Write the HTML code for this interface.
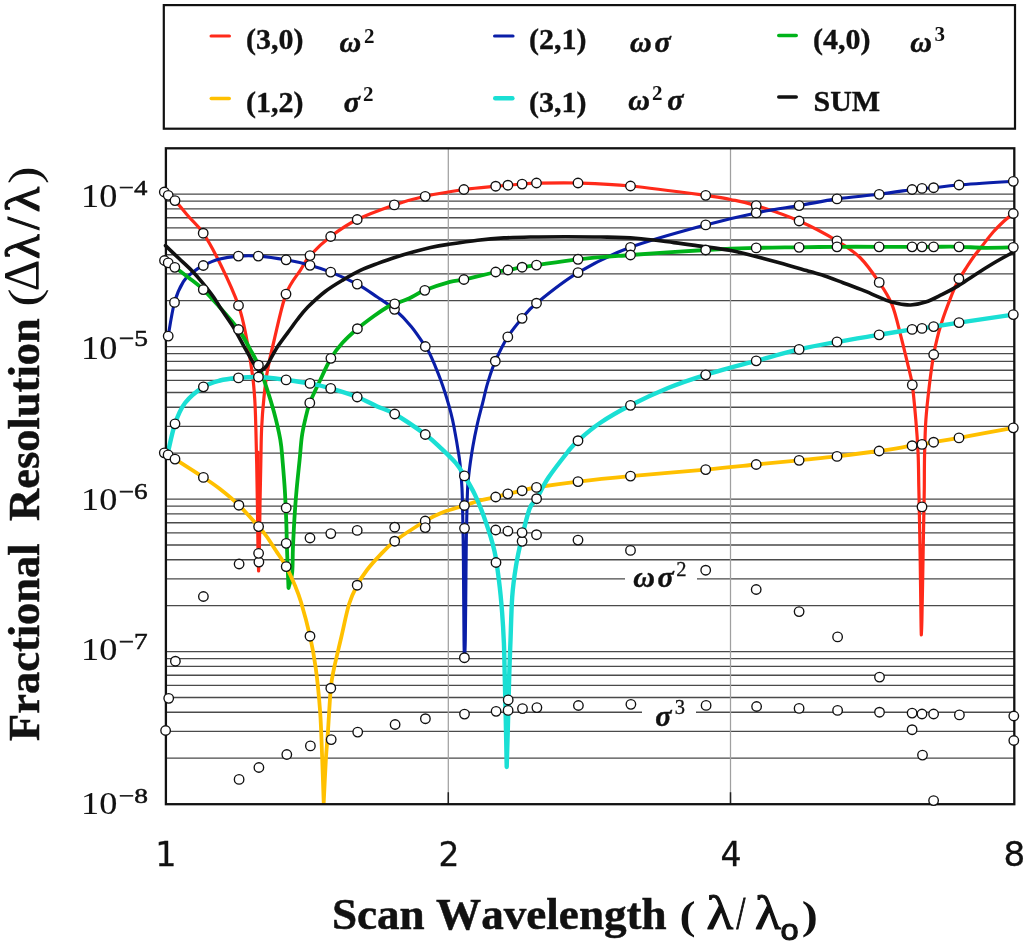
<!DOCTYPE html><html><head><meta charset="utf-8"><title>Fractional Resolution</title>
<style>html,body{margin:0;padding:0;background:#fff;}svg{display:block;}.sf{font-family:"Liberation Serif","DejaVu Serif",serif;}.ss{font-family:"Liberation Sans","DejaVu Sans",sans-serif;}</style></head><body>
<svg width="1024" height="946" viewBox="0 0 1024 946">
<rect width="1024" height="946" fill="#fff"/>
<rect x="163.8" y="5.1" width="851.2" height="123.6" fill="none" stroke="#111" stroke-width="2.2"/>
<line x1="211.1" y1="36.0" x2="229.4" y2="36.0" stroke="#ff2a1a" stroke-width="3.2" stroke-linecap="round"/>
<text class="sf" x="246.0" y="49.4" font-size="30" font-weight="bold" fill="#111" stroke="#111" stroke-width="0.35">(3,0)</text>
<line x1="494.6" y1="36.0" x2="513.0" y2="36.0" stroke="#0a1ea8" stroke-width="3.2" stroke-linecap="round"/>
<text class="sf" x="529.0" y="49.4" font-size="30" font-weight="bold" fill="#111" stroke="#111" stroke-width="0.35">(2,1)</text>
<line x1="778.8" y1="35.5" x2="796.2" y2="35.5" stroke="#00b31a" stroke-width="3.6" stroke-linecap="round"/>
<text class="sf" x="813.0" y="49.4" font-size="30" font-weight="bold" fill="#111" stroke="#111" stroke-width="0.35">(4,0)</text>
<line x1="211.3" y1="98.5" x2="229.2" y2="98.5" stroke="#ffc000" stroke-width="3.6" stroke-linecap="round"/>
<text class="sf" x="246.0" y="112.3" font-size="30" font-weight="bold" fill="#111" stroke="#111" stroke-width="0.35">(1,2)</text>
<line x1="495.2" y1="98.2" x2="512.4" y2="98.2" stroke="#1adfd4" stroke-width="4.4" stroke-linecap="round"/>
<text class="sf" x="529.0" y="112.3" font-size="30" font-weight="bold" fill="#111" stroke="#111" stroke-width="0.35">(3,1)</text>
<line x1="778.8" y1="97.0" x2="796.2" y2="97.0" stroke="#111" stroke-width="3.6" stroke-linecap="round"/>
<text class="sf" x="813.5" y="111.4" font-size="30" font-weight="bold" fill="#111" stroke="#111" stroke-width="0.35">SUM</text>
<text class="sf" font-size="30" font-weight="bold" font-style="italic" fill="#111" stroke="#111" stroke-width="0.5" x="339.4" y="51.5">ω</text>
<text class="sf" font-size="21" font-weight="bold" fill="#111" x="364.0" y="42.8">2</text>
<text class="sf" font-size="30" font-weight="bold" font-style="italic" fill="#111" stroke="#111" stroke-width="0.5" x="629.9" y="52.0">ω</text>
<text class="sf" font-size="30" font-weight="bold" font-style="italic" fill="#111" stroke="#111" stroke-width="0.5" x="654.5" y="52.0">σ</text>
<text class="sf" font-size="30" font-weight="bold" font-style="italic" fill="#111" stroke="#111" stroke-width="0.5" x="910.3" y="51.5">ω</text>
<text class="sf" font-size="21" font-weight="bold" fill="#111" x="934.6" y="40.8">3</text>
<text class="sf" font-size="30" font-weight="bold" font-style="italic" fill="#111" stroke="#111" stroke-width="0.5" x="343.8" y="111.7">σ</text>
<text class="sf" font-size="21" font-weight="bold" fill="#111" x="363.1" y="101.1">2</text>
<text class="sf" font-size="30" font-weight="bold" font-style="italic" fill="#111" stroke="#111" stroke-width="0.5" x="628.2" y="110.4">ω</text>
<text class="sf" font-size="21" font-weight="bold" fill="#111" x="652.1" y="99.5">2</text>
<text class="sf" font-size="30" font-weight="bold" font-style="italic" fill="#111" stroke="#111" stroke-width="0.5" x="667.2" y="110.4">σ</text>
<path d="M165.9 758.19H1014.3M165.9 731.34H1014.3M165.9 712.29H1014.3M165.9 697.51H1014.3M165.9 685.43H1014.3M165.9 675.22H1014.3M165.9 666.38H1014.3M165.9 658.58H1014.3M165.9 651.60H1014.3M165.9 605.69H1014.3M165.9 578.84H1014.3M165.9 559.79H1014.3M165.9 545.01H1014.3M165.9 532.93H1014.3M165.9 522.72H1014.3M165.9 513.88H1014.3M165.9 506.08H1014.3M165.9 499.10H1014.3M165.9 453.19H1014.3M165.9 426.34H1014.3M165.9 407.29H1014.3M165.9 392.51H1014.3M165.9 380.43H1014.3M165.9 370.22H1014.3M165.9 361.38H1014.3M165.9 353.58H1014.3M165.9 346.60H1014.3M165.9 300.69H1014.3M165.9 273.84H1014.3M165.9 254.79H1014.3M165.9 240.01H1014.3M165.9 227.93H1014.3M165.9 217.72H1014.3M165.9 208.88H1014.3M165.9 201.08H1014.3M165.9 194.10H1014.3" stroke="#4a4a4a" stroke-width="1.35" fill="none"/>
<path d="M448.3 148.3V804.2M730.5 148.3V804.2" stroke="#a0a0a0" stroke-width="1.25" fill="none"/>
<path d="M448.3 792.2V804.2M730.5 792.2V804.2" stroke="#222" stroke-width="1.5" fill="none"/>
<rect x="625" y="566" width="72" height="20" fill="#fff"/>
<rect x="642" y="700" width="54" height="22" fill="#fff"/>
<path d="M164.3 192.0 C165.0 192.6 166.4 193.9 168.2 195.3 C170.0 196.7 171.5 197.0 175.0 200.6 C178.5 204.2 184.3 211.6 189.0 217.0 C193.7 222.4 197.9 225.2 203.2 233.2 C208.5 241.2 215.0 253.1 220.9 265.2 C226.8 277.2 234.3 293.5 238.5 305.5 C242.7 317.5 244.0 325.4 246.3 337.0 C248.6 348.6 251.1 364.5 252.5 375.0 C253.9 385.5 254.2 390.8 254.8 400.0 C255.4 409.2 255.6 419.3 255.9 430.0 C256.2 440.7 256.4 451.7 256.7 464.0 C256.9 476.3 257.2 489.8 257.4 504.0 C257.6 518.2 257.8 537.8 258.0 549.0 C258.2 560.2 258.5 567.3 258.6 571.0 L258.6 571.0 C258.7 567.3 259.2 560.2 259.4 549.0 C259.6 537.8 259.8 518.2 260.0 504.0 C260.2 489.8 260.5 476.5 260.8 464.0 C261.1 451.5 261.1 440.2 261.6 429.0 C262.1 417.8 263.0 406.7 264.0 397.0 C265.0 387.3 265.7 380.5 267.4 371.0 C269.1 361.5 271.1 352.8 274.2 340.0 C277.3 327.2 281.6 305.8 286.0 294.1 C290.4 282.4 296.6 276.2 300.6 269.8 C304.6 263.4 305.0 261.1 310.0 255.6 C315.0 250.0 322.8 242.5 330.7 236.5 C338.6 230.5 346.6 224.8 357.2 219.5 C367.8 214.2 383.0 208.8 394.3 204.9 C405.6 201.0 413.6 198.9 425.2 196.3 C436.8 193.7 452.1 191.2 463.9 189.5 C475.6 187.8 486.0 187.1 495.7 186.2 C505.4 185.3 515.3 184.6 522.1 184.1 C528.9 183.6 527.2 183.4 536.5 183.2 C545.8 183.0 562.3 182.5 578.0 183.0 C593.7 183.5 609.2 183.9 630.5 186.0 C651.8 188.1 689.1 193.1 705.7 195.3 C722.4 197.6 722.0 197.8 730.4 199.5 C738.8 201.2 744.8 202.0 756.2 205.6 C767.7 209.2 785.6 215.1 799.1 221.0 C812.6 226.9 826.9 234.7 837.0 240.8 C847.1 246.9 853.0 250.6 860.0 257.5 C867.0 264.4 873.9 274.5 879.2 282.4 C884.6 290.3 888.5 296.0 892.1 304.8 C895.7 313.6 898.1 325.6 900.6 335.2 C903.1 344.8 905.3 354.0 907.3 362.3 C909.2 370.6 910.9 375.3 912.3 384.9 C913.7 394.5 914.8 408.3 915.8 419.7 C916.8 431.1 917.6 442.3 918.1 453.5 C918.6 464.7 918.6 477.6 918.8 487.0 C919.0 496.4 919.1 497.8 919.3 510.0 C919.5 522.2 919.9 541.7 920.2 560.0 C920.5 578.3 920.8 607.5 921.0 620.0 C921.2 632.5 921.2 632.5 921.3 635.0 L921.3 635.0 C921.4 632.5 921.6 632.5 921.9 620.0 C922.2 607.5 922.7 578.3 923.0 560.0 C923.3 541.7 923.7 522.1 923.9 510.0 C924.1 497.9 924.2 496.8 924.3 487.4 C924.4 478.0 924.3 464.8 924.6 453.5 C924.9 442.2 925.1 431.0 925.9 419.7 C926.7 408.4 928.0 396.8 929.3 385.9 C930.6 375.0 932.2 363.1 933.7 354.5 C935.2 345.9 936.9 339.7 938.1 334.6 C939.4 329.5 940.0 327.9 941.2 324.0 C942.4 320.1 943.9 315.7 945.5 311.3 C947.1 306.9 949.1 301.7 950.7 297.6 C952.3 293.6 953.6 290.1 955.0 287.0 C956.4 283.9 957.5 282.1 959.2 279.1 C961.0 276.1 963.0 272.8 965.5 269.0 C968.0 265.2 971.3 260.0 974.0 256.3 C976.7 252.6 978.3 250.9 981.5 246.8 C984.7 242.7 989.6 236.1 993.4 231.8 C997.2 227.5 1000.8 224.1 1004.1 221.0 C1007.4 217.9 1011.8 214.8 1013.3 213.5" fill="none" stroke="#ff2a1a" stroke-width="3.2" stroke-linejoin="round" stroke-linecap="round"/>
<path d="M258.4 452.0 C258.4 463.3 258.5 502.0 258.5 520.0 C258.5 538.0 258.6 553.3 258.6 560.0" fill="none" stroke="#ff2a1a" stroke-width="2.6" stroke-linejoin="round" stroke-linecap="round"/>
<path d="M168.2 336.1 C169.2 330.5 172.0 311.5 174.5 302.4 C177.0 293.3 180.3 286.6 183.4 281.6 C186.5 276.6 189.5 274.9 192.8 272.2 C196.1 269.5 199.0 267.6 203.3 265.5 C207.6 263.4 212.8 260.9 218.6 259.3 C224.4 257.7 231.8 256.6 238.4 256.1 C245.0 255.6 250.4 255.5 258.3 256.1 C266.2 256.7 277.5 258.3 286.1 259.8 C294.7 261.3 302.6 263.2 310.0 265.3 C317.4 267.4 322.8 269.0 330.7 272.1 C338.6 275.2 349.4 280.0 357.2 284.1 C364.9 288.2 371.0 292.8 377.2 297.0 C383.4 301.2 388.8 304.4 394.5 309.3 C400.2 314.2 406.3 320.5 411.4 326.7 C416.5 332.9 422.4 342.1 425.3 346.4 C428.2 350.7 427.6 349.3 429.1 352.4 C430.7 355.4 432.8 360.3 434.6 364.7 C436.4 369.1 438.4 373.9 440.1 378.5 C441.8 383.1 443.4 387.6 444.9 392.2 C446.4 396.8 447.7 401.3 449.0 405.9 C450.3 410.5 451.5 415.1 452.5 419.7 C453.5 424.3 454.3 428.4 455.2 433.4 C456.1 438.4 457.2 444.9 458.0 449.9 C458.8 454.9 459.3 457.2 460.0 463.6 C460.7 470.1 461.5 477.5 462.0 488.6 C462.5 499.7 462.8 518.1 463.0 530.0 C463.2 541.9 463.2 541.7 463.4 560.0 C463.6 578.3 463.8 623.7 464.0 640.0 C464.2 656.3 464.4 654.8 464.5 657.7 L464.5 657.7 C464.6 654.8 465.0 656.3 465.3 640.0 C465.6 623.7 465.9 578.3 466.1 560.0 C466.3 541.7 466.2 541.9 466.5 530.0 C466.8 518.1 467.1 499.0 467.6 488.6 C468.1 478.2 468.8 474.4 469.7 467.4 C470.6 460.3 471.7 453.4 472.9 446.3 C474.1 439.2 475.5 432.2 477.1 425.1 C478.7 418.1 480.6 411.0 482.4 404.0 C484.2 397.0 485.5 390.0 487.7 382.9 C489.9 375.8 491.9 368.9 495.3 361.2 C498.7 353.5 503.3 344.0 507.8 336.9 C512.3 329.8 517.3 323.9 522.1 318.3 C526.9 312.7 527.2 310.8 536.5 303.2 C545.8 295.6 562.3 281.9 578.0 272.6 C593.7 263.3 609.2 255.2 630.5 247.3 C651.8 239.4 684.8 230.6 705.7 224.9 C726.7 219.2 740.6 216.1 756.2 212.9 C771.8 209.7 785.6 207.9 799.1 205.6 C812.6 203.3 823.6 200.8 837.0 198.9 C850.4 197.0 866.7 195.9 879.2 194.3 C891.7 192.7 905.0 190.5 912.1 189.5 C919.2 188.5 918.4 188.7 922.0 188.4 C925.6 188.1 927.4 188.3 933.6 187.7 C939.8 187.1 945.7 186.1 959.0 185.0 C972.3 183.9 1004.2 181.9 1013.3 181.3" fill="none" stroke="#0a1ea8" stroke-width="3.1" stroke-linejoin="round" stroke-linecap="round"/>
<path d="M164.5 260.5 C165.1 260.9 166.5 261.7 168.2 262.8 C169.9 263.9 171.3 264.8 174.8 267.3 C178.3 269.8 184.2 274.3 189.0 278.0 C193.8 281.7 198.4 284.9 203.3 289.6 C208.2 294.3 212.7 299.4 218.6 306.0 C224.5 312.6 233.2 322.3 238.5 329.5 C243.8 336.7 246.9 343.5 250.2 349.4 C253.5 355.3 255.9 359.3 258.4 365.0 C260.9 370.7 262.7 376.0 265.3 383.8 C267.9 391.6 271.4 402.4 273.9 411.7 C276.4 421.0 278.9 431.6 280.3 439.6 C281.7 447.7 281.8 451.7 282.5 460.0 C283.2 468.3 284.2 479.7 284.8 489.6 C285.4 499.5 285.8 509.3 286.2 519.2 C286.6 529.1 286.6 537.3 287.0 548.8 C287.4 560.3 288.2 581.5 288.5 588.0 L288.5 588.0 C289.1 585.4 291.5 579.0 292.2 572.5 C292.9 566.0 292.5 557.7 292.9 548.8 C293.3 539.9 293.8 529.1 294.4 519.2 C295.0 509.3 295.7 499.5 296.6 489.6 C297.5 479.7 298.7 468.8 299.6 460.0 C300.5 451.2 300.9 443.7 301.8 437.0 C302.7 430.3 303.8 425.7 305.1 420.0 C306.4 414.3 307.3 409.5 309.8 402.9 C312.3 396.3 316.5 387.9 320.0 380.5 C323.5 373.1 327.2 364.6 330.9 358.3 C334.6 352.1 337.9 347.9 342.3 343.0 C346.7 338.1 352.1 333.2 357.4 328.7 C362.7 324.2 368.9 319.7 374.0 316.0 C379.1 312.3 384.9 308.5 388.3 306.5 C391.8 304.5 391.3 305.1 394.7 303.8 C398.1 302.5 403.9 300.8 408.9 298.5 C413.9 296.2 417.9 293.1 424.8 290.3 C431.7 287.5 443.5 283.7 450.0 281.9 C456.5 280.1 456.3 281.1 463.9 279.5 C471.5 277.9 488.4 273.6 495.7 272.0 C503.0 270.4 503.5 270.8 507.9 270.0 C512.3 269.2 517.3 268.0 522.1 267.2 C526.9 266.4 527.2 266.4 536.5 265.1 C545.8 263.8 562.3 261.0 578.0 259.3 C593.7 257.6 609.2 256.6 630.5 255.0 C651.8 253.4 684.8 251.2 705.7 250.0 C726.7 248.8 740.6 248.3 756.2 247.9 C771.8 247.5 785.6 247.5 799.1 247.3 C812.6 247.1 823.7 246.9 837.0 246.8 C850.3 246.7 866.6 246.8 879.1 246.8 C891.6 246.8 903.0 246.8 912.1 246.8 C921.2 246.8 925.8 246.8 933.6 246.8 C941.4 246.8 950.4 246.6 959.0 246.8 C967.6 247.0 976.0 247.7 985.0 247.8 C994.0 247.9 1008.6 247.4 1013.3 247.3" fill="none" stroke="#00b31a" stroke-width="3.8" stroke-linejoin="round" stroke-linecap="round"/>
<path d="M164.3 452.8 C164.9 453.1 166.3 453.8 168.1 454.9 C169.9 455.9 169.1 455.4 175.0 459.1 C180.9 462.9 195.9 472.4 203.4 477.4 C210.9 482.4 214.1 484.4 220.0 489.0 C225.9 493.6 232.5 498.9 238.9 505.2 C245.3 511.5 253.9 521.3 258.6 526.6 C263.3 531.9 264.1 533.0 267.0 537.0 C269.9 541.0 272.8 545.9 276.0 550.8 C279.2 555.7 283.0 560.8 286.2 566.6 C289.4 572.4 292.6 579.9 295.1 585.8 C297.6 591.7 298.5 593.6 301.0 602.0 C303.5 610.4 307.5 625.1 310.0 636.2 C312.5 647.3 314.1 656.0 315.8 668.5 C317.5 681.0 319.0 696.4 320.1 711.4 C321.2 726.4 321.6 743.6 322.2 758.8 C322.8 774.0 323.4 795.5 323.7 802.8 L323.7 802.8 C324.1 795.5 325.2 770.8 325.9 758.8 C326.6 746.8 327.2 742.6 328.0 730.8 C328.8 719.0 329.8 698.6 330.8 688.2 C331.8 677.8 332.2 677.2 334.0 668.5 C335.8 659.8 339.0 647.0 341.5 636.2 C344.0 625.5 346.5 612.5 349.1 604.0 C351.7 595.5 354.2 590.9 357.2 585.2 C360.2 579.5 363.2 575.0 367.0 570.0 C370.8 565.0 375.4 559.9 380.0 555.1 C384.6 550.3 387.2 546.9 394.7 541.2 C402.2 535.5 417.5 525.7 425.2 521.0 C432.9 516.3 434.6 515.5 441.1 512.9 C447.6 510.3 457.7 507.6 464.4 505.5 C471.1 503.4 476.1 501.6 481.3 500.2 C486.5 498.8 491.3 498.1 495.7 497.0 C500.1 495.9 503.4 494.9 507.8 493.8 C512.2 492.8 517.3 491.8 522.1 490.7 C526.9 489.6 527.2 488.9 536.5 487.4 C545.8 485.9 562.3 483.5 578.0 481.6 C593.7 479.7 609.2 478.1 630.5 476.1 C651.8 474.1 684.8 471.5 705.7 469.6 C726.7 467.7 740.6 466.1 756.2 464.5 C771.8 462.9 785.6 461.7 799.1 460.3 C812.6 458.9 823.7 457.9 837.0 456.4 C850.3 454.8 866.6 452.8 879.1 451.0 C891.6 449.2 905.0 446.8 912.1 445.7 C919.2 444.6 918.4 445.0 922.0 444.4 C925.6 443.8 927.4 443.3 933.6 442.2 C939.8 441.1 945.7 440.3 959.0 437.9 C972.3 435.5 1004.2 429.5 1013.3 427.8" fill="none" stroke="#ffc000" stroke-width="3.8" stroke-linejoin="round" stroke-linecap="round"/>
<path d="M168.0 452.2 C169.2 447.5 172.2 432.0 175.0 423.8 C177.8 415.6 180.3 409.2 185.0 403.0 C189.7 396.8 197.6 390.6 203.4 386.8 C209.2 383.1 214.2 382.0 220.0 380.5 C225.8 379.0 232.1 378.5 238.5 377.9 C244.9 377.3 250.5 376.7 258.4 377.0 C266.3 377.3 277.5 378.8 286.1 379.9 C294.7 381.0 302.6 382.0 310.0 383.4 C317.4 384.8 322.8 386.1 330.7 388.4 C338.6 390.7 349.4 394.0 357.2 397.0 C364.9 400.0 370.9 403.6 377.2 406.4 C383.4 409.2 386.7 409.3 394.7 414.0 C402.7 418.7 417.6 428.8 425.3 434.5 C433.0 440.2 436.0 443.6 441.1 448.4 C446.2 453.2 452.0 458.6 455.9 463.2 C459.8 467.8 461.2 470.6 464.4 475.9 C467.6 481.2 471.5 487.4 475.0 494.9 C478.5 502.3 482.1 511.2 485.3 520.6 C488.6 530.0 492.2 541.0 494.5 551.2 C496.8 561.4 497.8 571.6 499.1 581.8 C500.4 592.0 501.3 602.2 502.1 612.4 C502.9 622.6 503.5 633.4 503.9 643.0 C504.3 652.6 504.4 660.5 504.6 670.0 C504.8 679.5 505.0 688.3 505.3 700.0 C505.6 711.7 506.0 728.8 506.2 740.0 C506.4 751.2 506.6 762.5 506.7 767.0 L506.7 767.0 C506.8 762.5 507.2 751.2 507.5 740.0 C507.8 728.8 508.3 711.7 508.6 700.0 C508.9 688.3 509.1 679.5 509.4 670.0 C509.7 660.5 509.9 655.1 510.4 643.0 C510.9 630.9 511.3 609.9 512.2 597.1 C513.1 584.4 514.3 576.5 515.9 566.5 C517.5 556.5 519.7 546.7 522.0 537.0 C524.3 527.3 527.3 514.8 529.7 508.4 C532.1 502.0 533.5 503.8 536.6 498.7 C539.7 493.6 543.1 485.6 548.3 477.8 C553.5 470.0 562.8 458.2 567.7 452.0 C572.7 445.8 572.6 445.5 578.0 440.7 C583.4 435.9 591.2 428.9 600.0 423.0 C608.8 417.1 619.2 411.1 630.5 405.3 C641.8 399.5 655.5 393.1 668.0 388.0 C680.5 382.9 691.0 379.3 705.7 374.8 C720.4 370.3 740.6 365.0 756.2 360.8 C771.8 356.6 785.6 352.5 799.1 349.4 C812.6 346.2 823.7 344.3 837.0 341.9 C850.3 339.5 866.6 336.9 879.1 334.8 C891.6 332.7 905.0 330.5 912.1 329.4 C919.2 328.3 918.4 328.9 922.0 328.4 C925.6 327.9 927.4 327.6 933.6 326.6 C939.8 325.6 945.7 324.6 959.0 322.6 C972.3 320.6 1004.2 315.9 1013.3 314.6" fill="none" stroke="#1adfd4" stroke-width="4.4" stroke-linejoin="round" stroke-linecap="round"/>
<path d="M165.5 245.6 C167.8 247.8 174.9 254.6 179.3 258.8 C183.8 263.0 188.2 266.9 192.2 271.0 C196.1 275.1 199.4 279.0 203.0 283.4 C206.6 287.8 210.7 293.0 213.7 297.3 C216.7 301.6 218.0 304.3 221.2 309.1 C224.4 313.9 228.8 319.8 232.7 326.1 C236.6 332.5 240.9 340.9 244.4 347.2 C247.9 353.4 251.2 359.5 253.7 363.6 C256.2 367.7 258.6 370.4 259.6 371.8 L259.6 371.8 C260.8 370.8 263.7 370.0 266.6 365.9 C269.5 361.8 273.1 353.5 277.2 347.2 C281.3 340.9 287.9 332.5 291.2 328.0 C294.5 323.5 294.3 323.4 297.0 320.0 C299.7 316.6 302.9 312.1 307.6 307.3 C312.3 302.6 319.4 296.0 325.2 291.5 C331.0 287.0 336.8 283.6 342.7 280.1 C348.6 276.6 354.4 273.2 360.3 270.4 C366.2 267.6 372.0 265.6 377.9 263.4 C383.8 261.2 389.6 259.1 395.5 257.2 C401.4 255.3 407.1 253.6 413.0 252.0 C418.9 250.4 424.7 248.9 430.6 247.6 C436.5 246.3 440.4 245.6 448.2 244.4 C456.0 243.2 468.3 241.3 477.6 240.2 C486.9 239.1 495.1 238.4 503.9 237.9 C512.7 237.4 520.0 237.2 530.3 237.0 C540.6 236.8 553.8 236.7 565.5 236.7 C577.2 236.7 588.9 236.7 600.6 237.0 C612.3 237.3 623.6 237.4 635.8 238.3 C648.0 239.2 663.1 241.3 673.9 242.6 C684.6 243.9 690.8 244.8 700.3 246.1 C709.8 247.4 722.3 248.9 731.1 250.5 C739.9 252.1 745.0 253.8 753.0 255.8 C761.0 257.9 769.9 260.2 779.4 262.8 C788.9 265.4 803.0 269.6 810.0 271.6 C817.0 273.6 816.0 273.0 821.5 274.8 C827.0 276.6 835.8 280.0 843.0 282.7 C850.2 285.4 857.4 288.0 864.5 290.9 C871.6 293.8 880.5 298.0 885.9 300.1 C891.3 302.2 892.6 302.5 896.7 303.3 C900.8 304.1 905.7 305.2 910.6 305.0 C915.5 304.8 921.1 303.6 926.4 301.8 C931.7 300.0 937.0 297.0 942.3 294.4 C947.6 291.8 952.8 289.1 958.1 285.9 C963.4 282.7 968.1 279.2 974.0 275.4 C979.9 271.6 986.9 267.2 993.4 263.3 C999.9 259.4 1010.0 254.0 1013.3 252.2" fill="none" stroke="#111111" stroke-width="3.6" stroke-linejoin="round" stroke-linecap="round"/>
<rect x="165.9" y="148.3" width="848.4" height="655.9" fill="none" stroke="#111" stroke-width="2.3"/>
<g fill="#fff" stroke="#111" stroke-width="1.35"><circle cx="164.3" cy="192.0" r="4.75"/><circle cx="168.2" cy="195.3" r="4.75"/><circle cx="175.0" cy="200.6" r="4.75"/><circle cx="203.2" cy="233.2" r="4.75"/><circle cx="238.5" cy="305.5" r="4.75"/><circle cx="258.6" cy="526.6" r="4.75"/><circle cx="286.0" cy="294.1" r="4.75"/><circle cx="310.0" cy="255.6" r="4.75"/><circle cx="330.7" cy="236.5" r="4.75"/><circle cx="357.2" cy="219.5" r="4.75"/><circle cx="394.3" cy="204.9" r="4.75"/><circle cx="425.2" cy="196.3" r="4.75"/><circle cx="463.9" cy="189.5" r="4.75"/><circle cx="495.7" cy="186.2" r="4.75"/><circle cx="507.9" cy="185.2" r="4.75"/><circle cx="522.1" cy="184.1" r="4.75"/><circle cx="536.5" cy="183.0" r="4.75"/><circle cx="578.0" cy="183.0" r="4.75"/><circle cx="630.5" cy="186.0" r="4.75"/><circle cx="705.7" cy="195.3" r="4.75"/><circle cx="756.2" cy="205.6" r="4.75"/><circle cx="799.1" cy="221.0" r="4.75"/><circle cx="837.0" cy="240.8" r="4.75"/><circle cx="879.2" cy="282.4" r="4.75"/><circle cx="912.3" cy="384.9" r="4.75"/><circle cx="922.0" cy="506.8" r="4.75"/><circle cx="933.7" cy="354.5" r="4.75"/><circle cx="958.9" cy="278.7" r="4.75"/><circle cx="1013.3" cy="213.5" r="4.75"/><circle cx="168.2" cy="336.1" r="4.75"/><circle cx="174.5" cy="302.4" r="4.75"/><circle cx="203.3" cy="265.5" r="4.75"/><circle cx="238.4" cy="256.1" r="4.75"/><circle cx="258.3" cy="256.1" r="4.75"/><circle cx="286.1" cy="259.8" r="4.75"/><circle cx="310.0" cy="265.3" r="4.75"/><circle cx="330.7" cy="272.1" r="4.75"/><circle cx="357.2" cy="284.1" r="4.75"/><circle cx="394.5" cy="309.3" r="4.75"/><circle cx="425.3" cy="346.5" r="4.75"/><circle cx="464.4" cy="657.7" r="4.75"/><circle cx="495.3" cy="361.2" r="4.75"/><circle cx="507.8" cy="336.9" r="4.75"/><circle cx="522.1" cy="318.3" r="4.75"/><circle cx="536.5" cy="303.2" r="4.75"/><circle cx="578.0" cy="272.6" r="4.75"/><circle cx="630.5" cy="247.3" r="4.75"/><circle cx="705.7" cy="224.9" r="4.75"/><circle cx="756.2" cy="212.9" r="4.75"/><circle cx="799.1" cy="205.6" r="4.75"/><circle cx="837.0" cy="198.9" r="4.75"/><circle cx="879.2" cy="194.3" r="4.75"/><circle cx="912.1" cy="189.5" r="4.75"/><circle cx="922.0" cy="188.4" r="4.75"/><circle cx="933.6" cy="187.7" r="4.75"/><circle cx="959.0" cy="185.0" r="4.75"/><circle cx="1013.3" cy="181.3" r="4.75"/><circle cx="164.5" cy="260.5" r="4.75"/><circle cx="168.2" cy="262.8" r="4.75"/><circle cx="174.8" cy="267.3" r="4.75"/><circle cx="203.3" cy="289.6" r="4.75"/><circle cx="238.5" cy="329.5" r="4.75"/><circle cx="258.4" cy="365.2" r="4.75"/><circle cx="286.2" cy="507.8" r="4.75"/><circle cx="309.8" cy="402.9" r="4.75"/><circle cx="330.9" cy="358.3" r="4.75"/><circle cx="357.4" cy="328.7" r="4.75"/><circle cx="394.7" cy="303.8" r="4.75"/><circle cx="424.8" cy="290.3" r="4.75"/><circle cx="463.9" cy="279.5" r="4.75"/><circle cx="495.7" cy="272.0" r="4.75"/><circle cx="507.9" cy="270.0" r="4.75"/><circle cx="522.1" cy="267.2" r="4.75"/><circle cx="536.5" cy="265.1" r="4.75"/><circle cx="578.0" cy="259.3" r="4.75"/><circle cx="630.5" cy="255.0" r="4.75"/><circle cx="705.7" cy="250.0" r="4.75"/><circle cx="756.2" cy="247.9" r="4.75"/><circle cx="799.1" cy="247.3" r="4.75"/><circle cx="837.0" cy="246.8" r="4.75"/><circle cx="879.1" cy="246.8" r="4.75"/><circle cx="912.1" cy="246.8" r="4.75"/><circle cx="922.0" cy="246.8" r="4.75"/><circle cx="933.6" cy="246.8" r="4.75"/><circle cx="959.0" cy="246.8" r="4.75"/><circle cx="1013.3" cy="247.3" r="4.75"/><circle cx="175.0" cy="423.8" r="4.75"/><circle cx="203.4" cy="386.8" r="4.75"/><circle cx="238.5" cy="377.9" r="4.75"/><circle cx="258.4" cy="377.0" r="4.75"/><circle cx="286.1" cy="379.9" r="4.75"/><circle cx="310.0" cy="383.4" r="4.75"/><circle cx="330.7" cy="388.4" r="4.75"/><circle cx="357.2" cy="397.0" r="4.75"/><circle cx="394.7" cy="414.0" r="4.75"/><circle cx="425.3" cy="434.5" r="4.75"/><circle cx="464.4" cy="475.9" r="4.75"/><circle cx="496.0" cy="562.5" r="4.75"/><circle cx="508.2" cy="699.9" r="4.75"/><circle cx="522.1" cy="541.3" r="4.75"/><circle cx="536.6" cy="498.7" r="4.75"/><circle cx="578.0" cy="440.7" r="4.75"/><circle cx="630.5" cy="405.3" r="4.75"/><circle cx="705.7" cy="374.8" r="4.75"/><circle cx="756.2" cy="360.8" r="4.75"/><circle cx="799.1" cy="349.4" r="4.75"/><circle cx="837.0" cy="341.9" r="4.75"/><circle cx="879.1" cy="334.8" r="4.75"/><circle cx="912.1" cy="329.4" r="4.75"/><circle cx="922.0" cy="328.4" r="4.75"/><circle cx="933.6" cy="326.6" r="4.75"/><circle cx="959.0" cy="322.6" r="4.75"/><circle cx="1013.3" cy="314.6" r="4.75"/><circle cx="164.3" cy="452.8" r="4.75"/><circle cx="168.1" cy="454.9" r="4.75"/><circle cx="175.0" cy="459.1" r="4.75"/><circle cx="203.4" cy="477.4" r="4.75"/><circle cx="238.9" cy="505.2" r="4.75"/><circle cx="286.2" cy="566.6" r="4.75"/><circle cx="310.0" cy="636.2" r="4.75"/><circle cx="330.8" cy="688.2" r="4.75"/><circle cx="357.2" cy="585.2" r="4.75"/><circle cx="394.7" cy="541.2" r="4.75"/><circle cx="425.2" cy="521.0" r="4.75"/><circle cx="464.4" cy="505.5" r="4.75"/><circle cx="495.7" cy="497.0" r="4.75"/><circle cx="507.8" cy="493.8" r="4.75"/><circle cx="522.1" cy="490.7" r="4.75"/><circle cx="536.5" cy="487.4" r="4.75"/><circle cx="578.0" cy="481.6" r="4.75"/><circle cx="630.5" cy="476.1" r="4.75"/><circle cx="705.7" cy="469.6" r="4.75"/><circle cx="756.2" cy="464.5" r="4.75"/><circle cx="799.1" cy="460.3" r="4.75"/><circle cx="837.0" cy="456.4" r="4.75"/><circle cx="879.1" cy="451.0" r="4.75"/><circle cx="912.1" cy="445.7" r="4.75"/><circle cx="922.0" cy="444.4" r="4.75"/><circle cx="933.6" cy="442.2" r="4.75"/><circle cx="959.0" cy="437.9" r="4.75"/><circle cx="1013.3" cy="427.8" r="4.75"/><circle cx="165.6" cy="730.5" r="4.75"/><circle cx="168.7" cy="698.3" r="4.75"/><circle cx="175.4" cy="661.2" r="4.75"/><circle cx="203.4" cy="596.5" r="4.75"/><circle cx="239.1" cy="564.0" r="4.75"/><circle cx="258.9" cy="562.1" r="4.75"/><circle cx="258.6" cy="553.3" r="4.75"/><circle cx="286.2" cy="543.3" r="4.75"/><circle cx="310.0" cy="538.0" r="4.75"/><circle cx="330.8" cy="533.6" r="4.75"/><circle cx="357.2" cy="530.4" r="4.75"/><circle cx="394.7" cy="527.2" r="4.75"/><circle cx="425.2" cy="527.6" r="4.75"/><circle cx="464.5" cy="528.3" r="4.75"/><circle cx="495.7" cy="530.0" r="4.75"/><circle cx="507.9" cy="531.1" r="4.75"/><circle cx="522.1" cy="532.6" r="4.75"/><circle cx="536.5" cy="534.7" r="4.75"/><circle cx="578.0" cy="540.1" r="4.75"/><circle cx="630.5" cy="550.4" r="4.75"/><circle cx="705.7" cy="570.2" r="4.75"/><circle cx="756.2" cy="589.5" r="4.75"/><circle cx="799.1" cy="611.6" r="4.75"/><circle cx="837.6" cy="636.9" r="4.75"/><circle cx="879.5" cy="677.1" r="4.75"/><circle cx="912.1" cy="729.7" r="4.75"/><circle cx="922.5" cy="755.1" r="4.75"/><circle cx="933.6" cy="800.6" r="4.75"/><circle cx="1013.8" cy="740.5" r="4.75"/><circle cx="239.1" cy="779.4" r="4.75"/><circle cx="258.9" cy="767.5" r="4.75"/><circle cx="286.8" cy="754.5" r="4.75"/><circle cx="310.4" cy="745.9" r="4.75"/><circle cx="331.2" cy="739.6" r="4.75"/><circle cx="357.7" cy="732.1" r="4.75"/><circle cx="395.1" cy="724.5" r="4.75"/><circle cx="425.4" cy="718.7" r="4.75"/><circle cx="464.5" cy="714.1" r="4.75"/><circle cx="496.1" cy="711.3" r="4.75"/><circle cx="508.1" cy="710.4" r="4.75"/><circle cx="522.5" cy="708.6" r="4.75"/><circle cx="536.9" cy="707.6" r="4.75"/><circle cx="578.4" cy="705.5" r="4.75"/><circle cx="630.9" cy="704.3" r="4.75"/><circle cx="706.1" cy="705.4" r="4.75"/><circle cx="756.6" cy="706.5" r="4.75"/><circle cx="799.1" cy="708.4" r="4.75"/><circle cx="837.6" cy="710.4" r="4.75"/><circle cx="879.5" cy="712.2" r="4.75"/><circle cx="912.1" cy="713.1" r="4.75"/><circle cx="922.0" cy="714.0" r="4.75"/><circle cx="933.6" cy="714.0" r="4.75"/><circle cx="959.4" cy="714.9" r="4.75"/><circle cx="1013.8" cy="716.0" r="4.75"/></g>
<text class="sf" font-size="30" font-weight="bold" font-style="italic" fill="#111" stroke="#111" stroke-width="0.4" x="633.2" y="586.5">ω</text>
<text class="sf" font-size="30" font-weight="bold" font-style="italic" fill="#111" stroke="#111" stroke-width="0.4" x="657.6" y="586.5">σ</text>
<text class="sf" font-size="20.5" fill="#111" stroke="#111" stroke-width="0.3" x="676.2" y="575.8">2</text>
<text class="sf" font-size="30" font-weight="bold" font-style="italic" fill="#111" stroke="#111" stroke-width="0.4" x="655.2" y="725.5">σ</text>
<text class="sf" font-size="20.5" fill="#111" stroke="#111" stroke-width="0.3" x="674.7" y="714.3">3</text>
<text transform="translate(81.11 206.60) scale(1.0964 1)" style="font-kerning:none" font-family='"Liberation Serif",serif' font-weight="normal" font-style="normal" font-size="33.08" fill="#111" stroke="#111" stroke-width="0.15" xml:space="preserve">10</text>
<text transform="translate(118.76 195.00) scale(1.2354 1)" style="font-kerning:none" font-family='"Liberation Serif",serif' font-weight="normal" font-style="normal" font-size="21.73" fill="#111" stroke="#111" stroke-width="0.5" xml:space="preserve">−4</text>
<text transform="translate(81.11 358.60) scale(1.0964 1)" style="font-kerning:none" font-family='"Liberation Serif",serif' font-weight="normal" font-style="normal" font-size="33.08" fill="#111" stroke="#111" stroke-width="0.15" xml:space="preserve">10</text>
<text transform="translate(118.73 346.40) scale(1.1840 1)" style="font-kerning:none" font-family='"Liberation Serif",serif' font-weight="normal" font-style="normal" font-size="23.21" fill="#111" stroke="#111" stroke-width="0.5" xml:space="preserve">−5</text>
<text transform="translate(81.11 510.00) scale(1.1271 1)" style="font-kerning:none" font-family='"Liberation Serif",serif' font-weight="normal" font-style="normal" font-size="32.18" fill="#111" stroke="#111" stroke-width="0.15" xml:space="preserve">10</text>
<text transform="translate(118.74 498.80) scale(1.2347 1)" style="font-kerning:none" font-family='"Liberation Serif",serif' font-weight="normal" font-style="normal" font-size="22.05" fill="#111" stroke="#111" stroke-width="0.5" xml:space="preserve">−6</text>
<text transform="translate(81.11 659.70) scale(1.1219 1)" style="font-kerning:none" font-family='"Liberation Serif",serif' font-weight="normal" font-style="normal" font-size="32.33" fill="#111" stroke="#111" stroke-width="0.15" xml:space="preserve">10</text>
<text transform="translate(118.75 648.90) scale(1.2198 1)" style="font-kerning:none" font-family='"Liberation Serif",serif' font-weight="normal" font-style="normal" font-size="22.30" fill="#111" stroke="#111" stroke-width="0.5" xml:space="preserve">−7</text>
<text transform="translate(81.11 814.20) scale(1.1219 1)" style="font-kerning:none" font-family='"Liberation Serif",serif' font-weight="normal" font-style="normal" font-size="32.33" fill="#111" stroke="#111" stroke-width="0.15" xml:space="preserve">10</text>
<text transform="translate(118.73 802.50) scale(1.2859 1)" style="font-kerning:none" font-family='"Liberation Serif",serif' font-weight="normal" font-style="normal" font-size="21.35" fill="#111" stroke="#111" stroke-width="0.5" xml:space="preserve">−8</text>
<text transform="translate(155.13 866.00) scale(0.9980 1)" style="font-kerning:none" font-family='"DejaVu Sans",sans-serif' font-weight="normal" font-style="normal" font-size="33.47" fill="#111" stroke="#111" stroke-width="0.3" xml:space="preserve">1</text>
<text transform="translate(438.49 866.00) scale(0.9988 1)" style="font-kerning:none" font-family='"DejaVu Sans",sans-serif' font-weight="normal" font-style="normal" font-size="32.88" fill="#111" stroke="#111" stroke-width="0.3" xml:space="preserve">2</text>
<text transform="translate(720.48 866.00) scale(0.9898 1)" style="font-kerning:none" font-family='"DejaVu Sans",sans-serif' font-weight="normal" font-style="normal" font-size="33.47" fill="#111" stroke="#111" stroke-width="0.3" xml:space="preserve">4</text>
<text transform="translate(1003.38 866.00) scale(1.0403 1)" style="font-kerning:none" font-family='"DejaVu Sans",sans-serif' font-weight="normal" font-style="normal" font-size="32.88" fill="#111" stroke="#111" stroke-width="0.3" xml:space="preserve">8</text>
<text transform="translate(331.90 929.00) scale(1.0041 1)" style="font-kerning:none" font-family='"Liberation Serif",serif' font-weight="bold" font-style="normal" font-size="44.97" fill="#111" stroke="#111" stroke-width="0.5" xml:space="preserve">Scan Wavelength</text>
<text transform="translate(679.48 929.00) scale(1.2070 1)" style="font-kerning:none" font-family='"Liberation Serif",serif' font-weight="bold" font-style="normal" font-size="40.00" fill="#111"  xml:space="preserve">(</text>
<text transform="translate(706.55 929.00) scale(1.1481 1)" style="font-kerning:none" font-family='"Liberation Serif",serif' font-weight="normal" font-style="normal" font-size="47.86" fill="#111" stroke="#111" stroke-width="1.1" xml:space="preserve">λ</text>
<text transform="translate(736.50 929.00) scale(0.6936 1)" style="font-kerning:none" font-family='"Liberation Serif",serif' font-weight="normal" font-style="normal" font-size="45.66" fill="#111" stroke="#111" stroke-width="1.1" xml:space="preserve">/</text>
<text transform="translate(754.89 929.00) scale(1.1158 1)" style="font-kerning:none" font-family='"Liberation Serif",serif' font-weight="normal" font-style="normal" font-size="47.86" fill="#111" stroke="#111" stroke-width="1.1" xml:space="preserve">λ</text>
<text transform="translate(780.53 939.90) scale(1.0901 1)" style="font-kerning:none" font-family='"Liberation Sans",sans-serif' font-weight="normal" font-style="normal" font-size="29.92" fill="#111" stroke="#111" stroke-width="1.1" xml:space="preserve">o</text>
<text transform="translate(801.64 929.00) scale(1.2070 1)" style="font-kerning:none" font-family='"Liberation Serif",serif' font-weight="bold" font-style="normal" font-size="40.00" fill="#111"  xml:space="preserve">)</text>
<text transform="translate(38.90 741.06) rotate(-90) scale(1.0000 1)" style="font-kerning:none" font-family='"Liberation Serif",serif' font-weight="bold" font-style="normal" font-size="44.53" fill="#111" stroke="#111" stroke-width="0.5" xml:space="preserve">Fractional  Resolution</text>
<text transform="translate(38.50 306.83) rotate(-90) scale(1.2566 1)" style="font-kerning:none" font-family='"Liberation Serif",serif' font-weight="normal" font-style="normal" font-size="44.00" fill="#111"  xml:space="preserve">(</text>
<text transform="translate(38.10 291.27) rotate(-90) scale(0.9713 1)" style="font-kerning:none" font-family='"Liberation Serif",serif' font-weight="normal" font-style="normal" font-size="50.44" fill="#111"  xml:space="preserve">Δ</text>
<text transform="translate(38.90 258.94) rotate(-90) scale(1.0481 1)" style="font-kerning:none" font-family='"Liberation Serif",serif' font-weight="normal" font-style="normal" font-size="48.43" fill="#111" stroke="#111" stroke-width="1.1" xml:space="preserve">λ</text>
<text transform="translate(38.90 229.80) rotate(-90) scale(0.9977 1)" style="font-kerning:none" font-family='"Liberation Serif",serif' font-weight="normal" font-style="normal" font-size="45.81" fill="#111" stroke="#111" stroke-width="1.1" xml:space="preserve">/</text>
<text transform="translate(38.90 212.18) rotate(-90) scale(1.0845 1)" style="font-kerning:none" font-family='"Liberation Serif",serif' font-weight="normal" font-style="normal" font-size="48.43" fill="#111" stroke="#111" stroke-width="1.1" xml:space="preserve">λ</text>
<text transform="translate(38.50 183.89) rotate(-90) scale(1.1946 1)" style="font-kerning:none" font-family='"Liberation Serif",serif' font-weight="normal" font-style="normal" font-size="44.00" fill="#111"  xml:space="preserve">)</text>
</svg></body></html>
